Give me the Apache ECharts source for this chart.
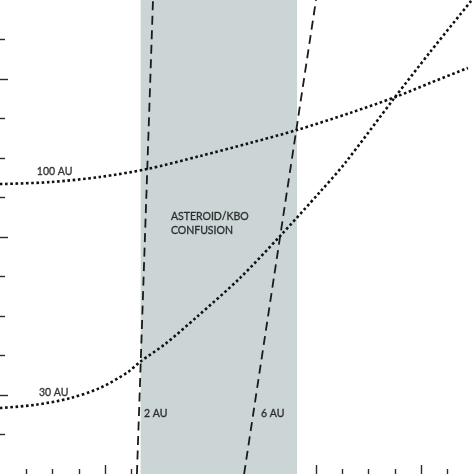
<!DOCTYPE html>
<html>
<head>
<meta charset="utf-8">
<script src="https://cdn.jsdelivr.net/npm/echarts@6/dist/echarts.min.js"></script>
<style>html,body{margin:0;padding:0;background:#fff}#c{width:474px;height:474px}</style>
</head>
<body>
<div id="c"></div>
<script>
// Axis ranges (arbitrary units; no tick labels in the source)
var xRange = [0, 18];
var yRange = [0, 12];
var xMinorTicks = [1, 2, 3, 5, 6, 7, 9, 10, 11, 13, 14, 15, 17];
var xMajorTicks = [4, 8, 12, 16];
var yMinorTicks = [1, 3, 4, 5, 7, 8, 9, 11];
var yMajorTicks = [2, 6, 10];

// Shaded asteroid/KBO confusion band (x extent)
var bandX = [5.34, 11.28];

// Dashed distance lines
var au2 = [[5.2, 0], [5.81, 12]];
var au6 = [[9.27, 0], [12.0, 12]];

// Dotted curves
var au100X = [0, 1.9, 3.8, 5.58, 7.6, 9.49, 11.28, 13.29, 15.0, 16.33, 17.77];
var au100Y = [7.34, 7.39, 7.52, 7.72, 8.05, 8.38, 8.71, 9.14, 9.54, 9.9, 10.28];
var au30X = [0, 1.33, 2.66, 3.8, 4.86, 5.32, 6.27, 7.48, 9.11, 10.67, 12.15, 13.1, 15.0, 16.33, 17.92];
var au30Y = [1.67, 1.75, 1.92, 2.18, 2.58, 2.84, 3.29, 3.98, 4.96, 6.05, 7.14, 7.87, 9.54, 10.68, 12.0];

// Annotations
var labelText = ['100 AU', '30 AU', '2 AU', '6 AU', 'ASTEROID/KBO', 'CONFUSION'];
var labelX = [1.4, 1.48, 5.47, 9.91, 6.49, 6.49];
var labelY = [7.65, 2.05, 1.54, 1.54, 6.51, 6.15];

function zip(xs, ys) { return xs.map(function (x, i) { return [x, ys[i]]; }); }

var tickColor = '#2b2b2b';
function mkAxis(kind, pos, range, ticks, len) {
  return {
    type: 'value', position: pos, min: range[0], max: range[1],
    axisLine: { show: false }, axisLabel: { show: false }, splitLine: { show: false },
    axisTick: { show: true, inside: true, length: len, customValues: ticks,
      lineStyle: { color: tickColor, width: 1.4 } }
  };
}

var chart = echarts.init(document.getElementById('c'), null, { renderer: 'canvas' });
chart.setOption({
  animation: false,
  backgroundColor: '#ffffff',
  grid: { left: 0, right: 0, top: 0, bottom: 0, containLabel: false },
  xAxis: [
    mkAxis('x', 'bottom', xRange, xMinorTicks, 5),
    mkAxis('x', 'bottom', xRange, xMajorTicks, 9),
    mkAxis('x', 'top', xRange, xMinorTicks, 5),
    mkAxis('x', 'top', xRange, xMajorTicks, 8)
  ],
  yAxis: [
    mkAxis('y', 'left', yRange, yMinorTicks, 5),
    mkAxis('y', 'left', yRange, yMajorTicks, 8),
    mkAxis('y', 'right', yRange, yMinorTicks, 5),
    mkAxis('y', 'right', yRange, yMajorTicks, 8)
  ],
  series: [
    {
      type: 'line', z: 1, data: [[bandX[0], yRange[0]]], symbol: 'none',
      lineStyle: { opacity: 0 }, silent: true,
      markArea: {
        silent: true,
        itemStyle: { color: '#cbd5d6' },
        data: [[{ xAxis: bandX[0], yAxis: yRange[0] }, { xAxis: bandX[1], yAxis: yRange[1] }]]
      }
    },
    { type: 'line', z: 3, data: au2, symbol: 'none',
      lineStyle: { color: '#1a1a1a', width: 1.8, type: [9, 5.5] } },
    { type: 'line', z: 3, data: au6, symbol: 'none',
      lineStyle: { color: '#1a1a1a', width: 1.8, type: [9, 5.5] } },
    { type: 'line', z: 4, data: zip(au100X, au100Y), symbol: 'none', smooth: 0.3,
      lineStyle: { color: '#111', width: 2.6, type: [2.6, 2.6] } },
    { type: 'line', z: 4, data: zip(au30X, au30Y), symbol: 'none', smooth: 0.3,
      lineStyle: { color: '#111', width: 2.6, type: [2.6, 2.6] } },
    {
      type: 'scatter', z: 5, symbolSize: 0, silent: true,
      data: labelText.map(function (t, i) { return { value: [labelX[i], labelY[i]], name: t }; }),
      label: {
        show: true, position: 'right', distance: 0,
        formatter: function (p) { return p.name; },
        fontFamily: 'Lato', fontSize: 10.5, color: '#111', verticalAlign: 'middle',
        textBorderColor: '#111', textBorderWidth: 0.35
      }
    }
  ]
});
</script>
</body>
</html>
